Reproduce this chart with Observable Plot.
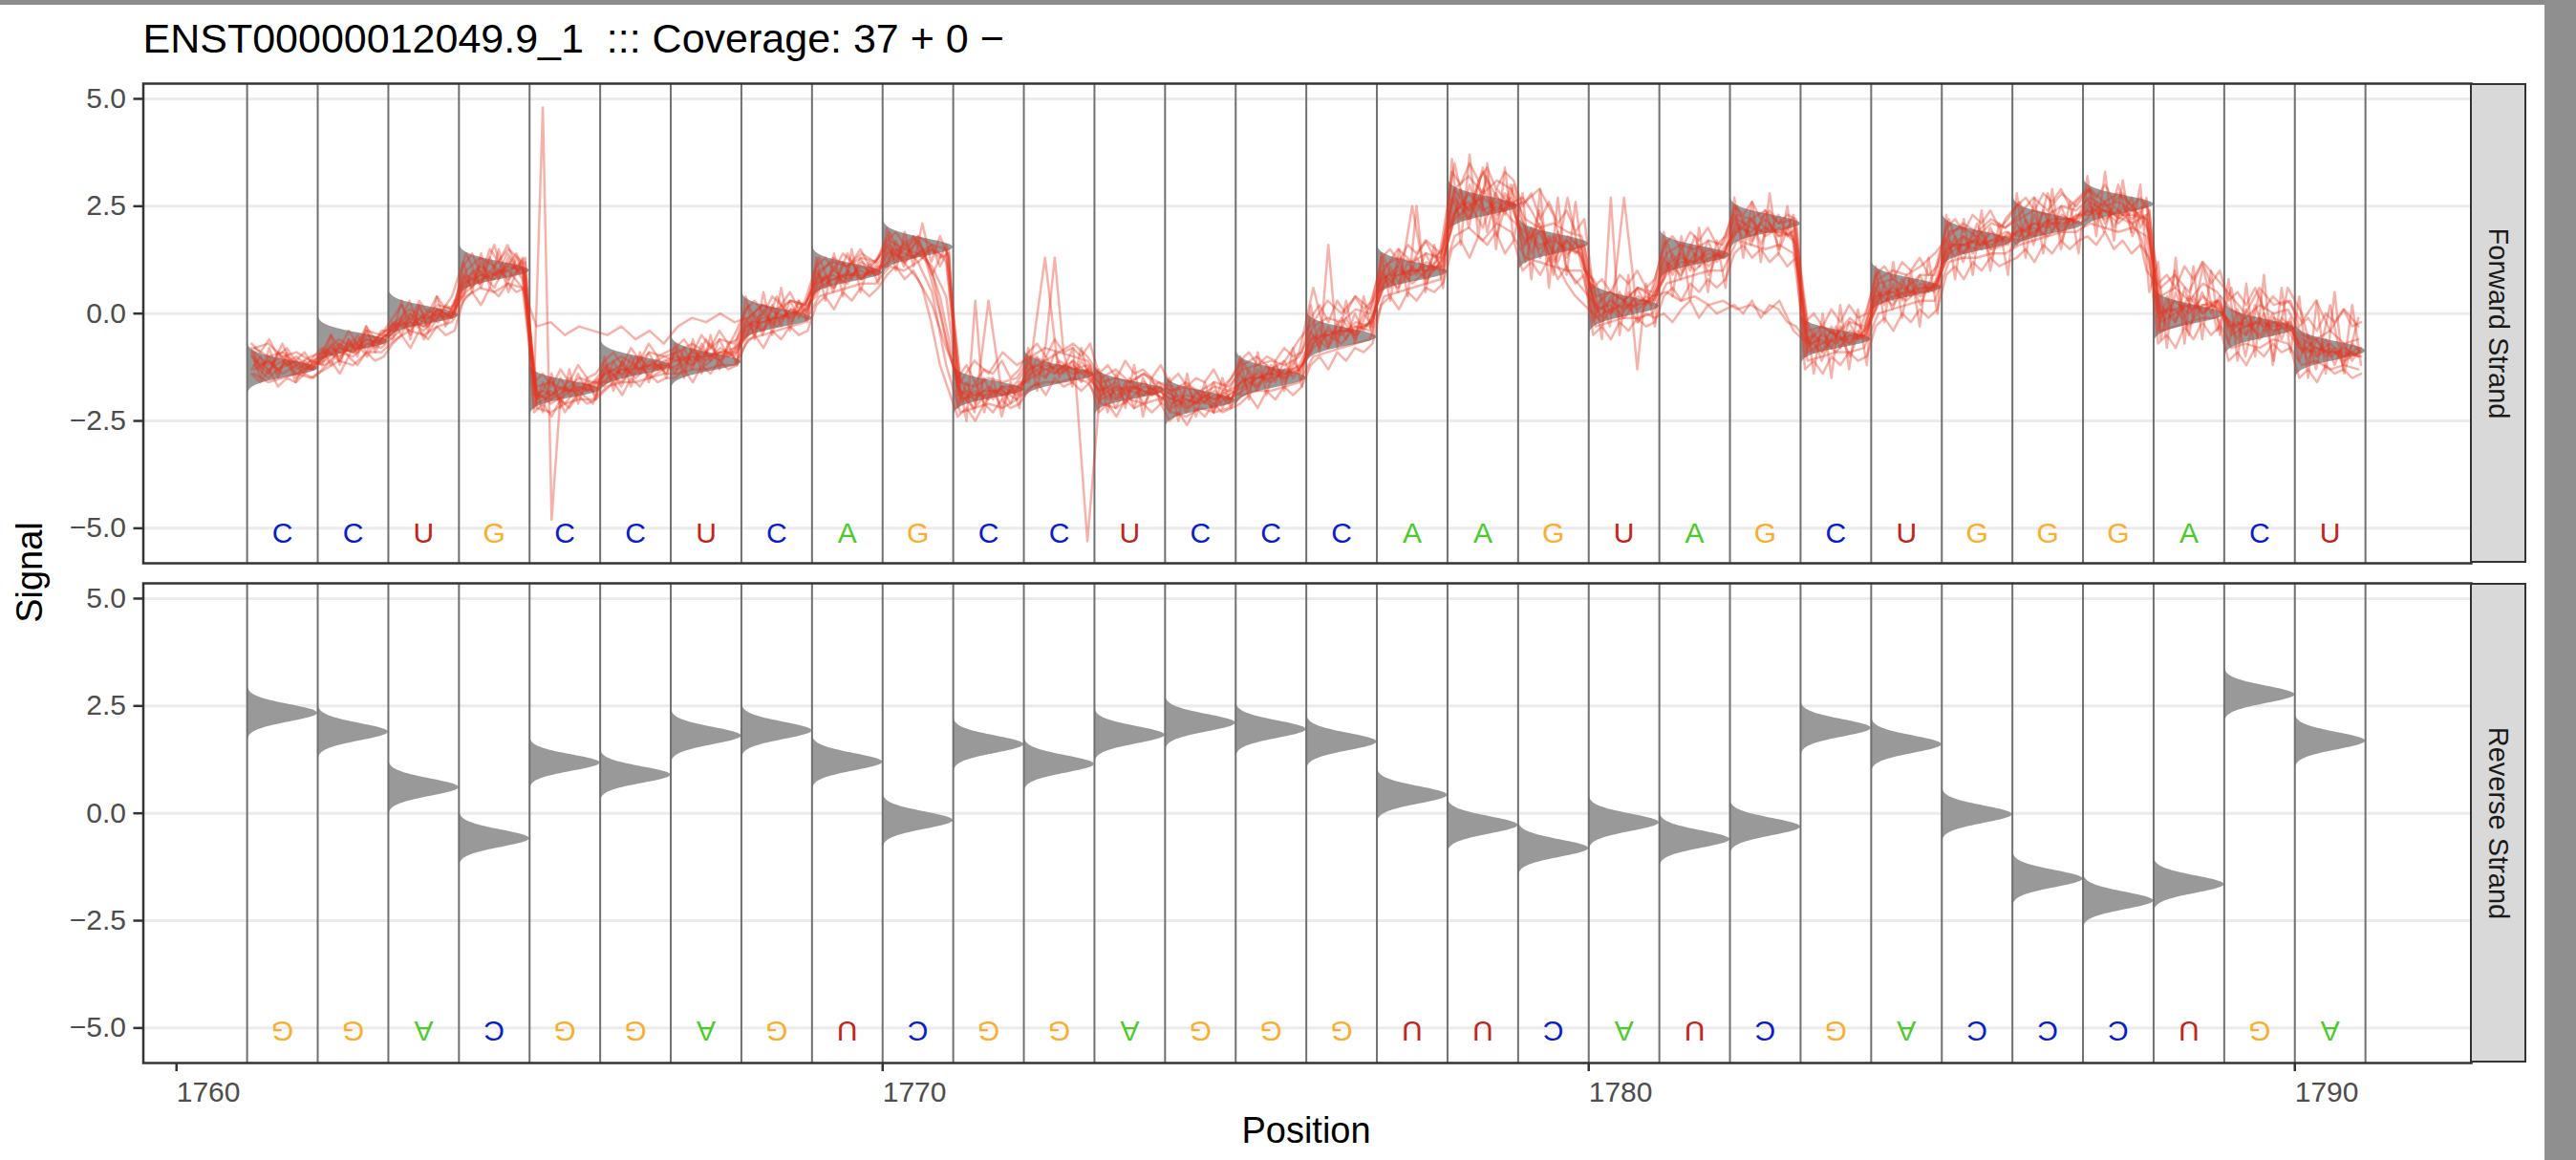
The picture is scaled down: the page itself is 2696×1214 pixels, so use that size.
<!DOCTYPE html>
<html>
<head>
<meta charset="utf-8">
<script src="https://cdn.jsdelivr.net/npm/d3@7"></script>
<script src="https://cdn.jsdelivr.net/npm/@observablehq/plot@0.6"></script>
<style>
  html, body { margin:0; padding:0; background:#fff; }
  #page { position:relative; width:2696px; height:1214px; overflow:hidden; background:#fff;
          font-family:"Liberation Sans", Arial, Helvetica, sans-serif; }
  .abs { position:absolute; }
  .strip { position:absolute; box-sizing:border-box; background:#d9d9d9; border:2px solid #333;
           display:flex; align-items:center; justify-content:center; }
  .strip span { display:block; transform:rotate(90deg); white-space:nowrap; font-size:29px; color:#1a1a1a; line-height:1; }
</style>
</head>
<body>
<div id="page">
  <div class="abs" style="left:0;top:0;width:2696px;height:5px;background:#8b8b8b"></div>
  <div class="abs" style="left:2663px;top:0;width:33px;height:1214px;background:#8f8f8f"></div>
  <div class="abs" style="left:149.5px;top:18.6px;font-size:43px;line-height:43px;white-space:pre;color:#000">ENST00000012049.9_1  ::: Coverage: 37 + 0 −</div>
  <div class="abs" id="topPanel" style="left:0;top:80px"></div>
  <div class="abs" id="bottomPanel" style="left:0;top:600px"></div>
  <div class="strip" style="left:2585px;top:87px;width:59px;height:502px"><span>Forward Strand</span></div>
  <div class="strip" style="left:2585px;top:610px;width:59px;height:502px"><span>Reverse Strand</span></div>
  <div class="abs" style="left:31px;top:599px;font-size:38px;line-height:38px;color:#000;white-space:nowrap;transform:translate(-50%,-50%) rotate(-90deg)">Signal</div>
  <div class="abs" style="left:1367px;top:1164px;font-size:38px;line-height:38px;color:#000;white-space:nowrap;transform:translateX(-50%)">Position</div>
</div>
<script>
// ---------- data ----------
const positions = [1761,1762,1763,1764,1765,1766,1767,1768,1769,1770,1771,1772,1773,1774,1775,1776,1777,1778,1779,1780,1781,1782,1783,1784,1785,1786,1787,1788,1789,1790];
const boundaries = [1761,1762,1763,1764,1765,1766,1767,1768,1769,1770,1771,1772,1773,1774,1775,1776,1777,1778,1779,1780,1781,1782,1783,1784,1785,1786,1787,1788,1789,1790,1791];
const fwdBases = ["C","C","U","G","C","C","U","C","A","G","C","C","U","C","C","C","A","A","G","U","A","G","C","U","G","G","G","A","C","U"];
const revBases = ["G","G","A","C","G","G","A","G","U","C","G","G","A","G","G","G","U","U","C","A","U","C","G","A","C","C","C","U","G","A"];
const fwdMean = [-1.28,-0.65,-0.04,1.00,-1.77,-1.22,-1.13,-0.11,0.95,1.54,-1.77,-1.42,-1.79,-2.03,-1.50,-0.55,0.97,2.50,1.62,0.17,1.36,2.09,-0.60,0.61,1.69,2.08,2.54,-0.02,-0.35,-0.87];
const fwdSd   = [0.19,0.19,0.19,0.20,0.19,0.20,0.20,0.20,0.20,0.21,0.19,0.19,0.19,0.20,0.21,0.20,0.20,0.21,0.21,0.21,0.20,0.20,0.19,0.20,0.21,0.21,0.20,0.21,0.21,0.21];
const revMean = [2.33,1.89,0.60,-0.59,1.17,0.89,1.80,1.92,1.19,-0.17,1.60,1.14,1.82,2.10,1.95,1.66,0.42,-0.28,-0.82,-0.22,-0.61,-0.32,1.98,1.60,-0.03,-1.53,-2.04,-1.66,2.76,1.68];
const revSd   = [0.20,0.20,0.20,0.20,0.19,0.19,0.20,0.20,0.20,0.20,0.20,0.20,0.20,0.20,0.20,0.20,0.20,0.20,0.20,0.20,0.20,0.20,0.20,0.20,0.20,0.20,0.20,0.20,0.20,0.20];
const yTicks = [-5, -2.5, 0, 2.5, 5];
const xTicks = [1760, 1770, 1780, 1790];

// signal samples of individual reads (5 per base, bases 1761..1790)
const readA = [
-1.0,-1.3,-1.1,-1.4,-1.2, -1.1,-0.8,-0.9,-0.6,-0.7, -0.4,-0.1,-0.3,0.1,-0.1, 0.6,0.9,0.8,1.2,0.9, -2.0,-1.8,-2.1,-1.7,-1.8, -1.5,-1.3,-1.4,-1.1,-1.3, -1.2,-0.9,-1.1,-0.8,-1.0, -0.4,-0.1,-0.2,0.1,0.0, 0.7,1.0,0.8,1.1,0.9, 1.3,1.6,1.2,1.5,1.3,
-1.8,-2.0,-1.7,-1.9,-1.8, -1.4,-1.2,-1.3,-1.1,-1.4, -1.9,-1.7,-1.8,-1.6,-1.9, -2.1,-1.9,-2.0,-2.2,-1.9, -1.7,-1.5,-1.4,-1.5,-1.3, -0.7,-0.4,-0.5,-0.2,-0.3, 0.7,1.0,0.9,1.2,1.0, 2.3,2.8,2.4,2.6,2.2, 1.9,1.5,1.8,1.4,1.6, 0.0,0.3,0.1,0.4,0.2,
1.0,1.3,1.2,1.5,1.3, 2.1,1.8,2.0,1.9,2.1, -0.8,-0.5,-0.7,-0.4,-0.6, 0.3,0.6,0.4,0.7,0.5, 1.5,1.8,1.6,1.7,1.9, 1.8,2.1,2.0,2.3,2.1, 2.5,2.2,2.4,2.1,2.3, -0.1,0.3,0.0,0.4,0.1, -0.2,-0.5,-0.1,-0.4,-0.3, -0.7,-1.0,-0.8,-1.1,-0.9];
const readB = [
-1.3,-1.1,-1.4,-1.2,-1.3, -0.9,-1.0,-0.7,-0.8,-0.5, -0.2,-0.4,0.0,-0.2,0.1, 0.9,0.7,1.1,0.8,1.1, -1.8,-2.1,-1.9,-1.6,-1.7, -1.3,-1.6,-1.2,-1.4,-1.1, -1.0,-1.2,-0.9,-1.1,-0.8, -0.2,-0.4,0.0,-0.1,0.2, 0.9,0.6,1.0,0.8,1.1, 1.5,1.2,1.4,1.1,0.4,
-2.1,-1.8,-2.0,-1.7,-1.9, -1.2,-1.5,-1.1,-1.3,-1.2, -1.7,-2.0,-1.8,-1.9,-1.7, -1.9,-2.2,-2.0,-1.8,-2.1, -1.5,-1.7,-1.3,-1.4,-1.2, -0.5,-0.8,-0.3,-0.5,-0.2, 0.9,0.6,1.1,0.8,1.2, 2.7,2.2,2.9,2.3,2.6, 1.6,2.1,1.4,1.7,1.3, 0.2,0.0,0.3,0.1,0.4,
1.2,0.9,1.4,1.1,1.5, 1.9,2.2,1.8,2.0,1.7, -0.6,-0.9,-0.5,-0.7,-0.4, 0.5,0.2,0.6,0.4,0.7, 1.7,1.4,1.8,1.5,1.6, 2.0,1.8,2.2,1.9,2.3, 2.3,2.6,2.2,2.5,2.0, 0.2,-0.2,0.4,0.0,0.3, -0.4,-0.1,-0.6,-0.2,-0.4, -0.9,-0.6,-1.0,-0.8,-1.0];
const readC = [
-1.2,-1.5,-1.2,-1.0,-1.3, -1.0,-0.7,-0.9,-0.5,-0.6, -0.3,-0.2,-0.4,0.0,0.0, 0.7,1.0,0.6,1.3,0.8, -2.1,-1.9,-1.7,-1.9,-1.6, -1.4,-1.2,-1.5,-1.2,-1.0, -1.1,-1.0,-1.2,-0.9,-0.9, -0.3,0.0,-0.3,0.1,-0.1, 0.8,0.9,0.7,1.2,1.0, 1.4,1.3,1.7,1.0,-0.6,
-1.9,-2.2,-1.8,-1.8,-2.0, -1.3,-1.1,-1.4,-1.2,-1.5, -1.8,-1.6,-2.0,-1.7,-1.8, -2.0,-2.1,-1.8,-2.0,-1.8, -1.6,-1.4,-1.6,-1.3,-1.4, -0.6,-0.5,-0.7,-0.3,-0.4, 0.8,1.1,0.7,1.0,1.3, 2.4,2.6,2.0,2.9,2.5, 1.7,1.9,1.2,1.8,1.5, 0.1,0.2,-0.1,0.3,0.3,
1.1,1.4,1.0,1.3,1.4, 2.0,1.9,2.2,1.8,1.9, -0.7,-0.6,-0.9,-0.5,-0.5, 0.4,0.5,0.3,0.6,0.6, 1.6,1.6,1.5,1.9,1.7, 1.9,2.0,1.8,2.2,2.2, 2.4,2.4,2.1,2.4,2.2, 0.0,0.1,-0.3,0.2,0.3, -0.3,-0.2,-0.5,-0.1,-0.3, -0.8,-0.9,-0.7,-1.0,-0.8];
const readD = [
-0.9,-1.2,-1.0,-1.3,-1.1, -1.2,-0.9,-1.0,-0.7,-0.8, -0.5,-0.2,-0.3,-0.1,0.0, 0.5,0.8,0.9,1.1,1.0, -1.9,-2.0,-1.8,-1.8,-1.6, -1.6,-1.3,-1.3,-1.2,-1.2, -1.3,-1.0,-1.0,-0.9,-0.8, -0.5,-0.2,-0.1,0.0,0.1, 0.6,0.8,0.9,0.9,1.0, 1.2,1.5,1.4,1.6,1.2,
-2.0,-1.9,-1.9,-1.7,-1.7, -1.5,-1.3,-1.2,-1.4,-1.3, -2.0,-1.8,-1.7,-1.8,-1.9, -2.2,-2.0,-2.1,-1.9,-2.0, -1.8,-1.5,-1.5,-1.4,-1.3, -0.8,-0.5,-0.4,-0.4,-0.2, 0.6,0.9,1.0,1.0,1.1, 2.2,2.5,2.7,2.4,2.7, 2.0,1.6,1.7,1.5,1.4, -0.1,0.1,0.2,0.2,0.3,
0.9,1.2,1.2,1.4,1.3, 2.2,2.0,1.9,1.9,1.8, -0.9,-0.7,-0.6,-0.6,-0.5, 0.2,0.4,0.5,0.5,0.6, 1.4,1.6,1.7,1.6,1.8, 1.7,1.9,2.1,2.1,2.2, 2.6,2.4,2.3,2.3,2.2, -0.2,0.0,0.2,0.1,0.2, -0.5,-0.3,-0.2,-0.3,-0.2, -0.6,-0.8,-0.9,-0.9,-1.0];
const readE = [
-0.8,-1.0,-0.9,-1.2,-1.0, -0.9,-0.6,-0.8,-0.4,-0.5, -0.2,0.1,-0.1,0.2,0.1, 1.0,1.3,1.1,1.5,1.2, -1.7,-1.6,-1.8,-1.5,-1.6, -1.2,-1.0,-1.2,-0.9,-1.0, -0.9,-0.7,-0.9,-0.6,-0.7, -0.1,0.2,0.0,0.3,0.2, 1.0,1.2,1.1,1.3,1.2, 1.7,1.5,1.8,1.6,1.5,
-1.6,-1.7,-1.5,-1.6,-1.5, -1.0,-1.1,-0.9,-1.0,-1.1, -1.6,-1.5,-1.6,-1.4,-1.6, -1.8,-1.7,-1.8,-1.6,-1.7, -1.3,-1.2,-1.1,-1.2,-1.0, -0.3,-0.1,-0.2,0.1,0.0, 1.1,1.3,1.2,1.4,1.3, 2.9,3.2,2.8,3.1,2.9, 2.2,2.0,2.1,1.9,1.8, 0.4,0.5,0.3,0.6,0.5,
1.4,1.6,1.5,1.7,1.6, 2.3,2.2,2.4,2.1,2.2, -0.4,-0.3,-0.5,-0.2,-0.3, 0.7,0.8,0.6,0.9,0.9, 1.9,2.0,1.8,2.1,2.0, 2.2,2.4,2.3,2.5,2.4, 2.7,2.5,2.6,2.4,2.5, 0.4,0.6,0.3,0.7,0.5, 0.1,-0.1,0.2,0.0,0.1, -0.5,-0.6,-0.4,-0.7,-0.6];
const readF = [
-1.4,-1.6,-1.5,-1.4,-1.5, -1.3,-1.1,-1.2,-0.9,-0.9, -0.6,-0.4,-0.5,-0.3,-0.2, 0.4,0.6,0.5,0.7,0.6, -2.2,-2.3,-2.1,-2.0,-2.0, -1.7,-1.6,-1.6,-1.5,-1.4, -1.4,-1.3,-1.3,-1.2,-1.2, -0.6,-0.5,-0.4,-0.3,-0.2, 0.4,0.5,0.6,0.7,0.7, 1.1,1.0,1.2,0.5,-1.2,
-2.3,-2.2,-2.1,-2.2,-2.0, -1.7,-1.6,-1.6,-1.5,-1.6, -2.1,-2.2,-2.0,-2.1,-2.0, -2.3,-2.4,-2.2,-2.3,-2.2, -1.9,-1.8,-1.8,-1.7,-1.6, -1.0,-0.9,-0.8,-0.7,-0.6, 0.4,0.5,0.6,0.7,0.8, 1.8,2.0,1.7,2.1,1.9, 1.3,1.2,1.1,1.0,1.0, -0.3,-0.2,-0.1,-0.1,0.0,
0.7,0.8,0.9,1.0,1.0, 1.7,1.6,1.5,1.6,1.4, -1.1,-1.0,-0.9,-0.9,-0.8, 0.0,0.1,0.2,0.3,0.3, 1.2,1.3,1.3,1.4,1.4, 1.6,1.7,1.8,1.9,1.9, 2.1,2.0,1.9,2.0,1.8, -0.4,-0.3,-0.2,-0.1,-0.1, -0.8,-0.7,-0.8,-0.6,-0.7, -1.2,-1.1,-1.3,-1.2,-1.3];
const readG = [
-0.8,-0.7,-1.0,-0.9,-1.1, -1.0,-0.8,-0.9,-0.7,-0.6, -0.3,0.0,-0.2,0.1,-0.1, 0.8,1.1,0.9,1.0,0.6, -0.3,-0.2,-0.5,-0.3,-0.4, -0.5,-0.3,-0.6,-0.4,-0.7, -0.3,-0.1,-0.2,0.0,-0.2, -0.1,0.2,0.1,0.3,0.2, 0.9,1.3,1.1,1.4,1.2, 1.6,1.2,0.8,0.2,-0.8,
-1.6,-1.1,-1.4,-0.9,-1.2, -1.0,-0.8,-0.9,-0.7,-1.0, -1.5,-1.3,-1.6,-1.4,-1.7, -1.8,-1.6,-1.9,-1.7,-1.8, -1.2,-1.0,-1.3,-1.1,-0.6, -0.2,0.3,0.0,0.4,0.1, 1.0,1.5,1.2,1.7,1.4, 2.9,2.4,3.3,2.7,2.5, 2.6,2.9,2.3,1.0,0.6, 0.2,0.5,0.3,0.6,0.4,
0.5,0.3,0.4,0.2,0.3, 0.1,0.2,0.0,0.3,-0.4, -0.7,-0.3,-0.5,-0.1,-0.4, 0.8,1.0,0.9,1.1,1.4, 1.8,2.1,1.9,2.2,2.0, 2.3,2.7,2.4,2.8,2.5, 2.9,2.6,2.8,2.5,1.0, 0.6,0.9,0.5,1.2,0.8, 0.4,0.0,0.6,0.2,0.3, -0.2,0.3,-0.4,0.1,-0.3];
const readH = [
-1.1,-1.4,-0.7,-1.5,-1.2, -0.8,-1.1,-0.6,-1.0,-0.4, -0.4,0.3,-0.6,-0.1,0.4, 1.4,0.7,1.6,0.5,1.3, -2.0,-1.5,-2.3,-1.8,-2.1, -1.2,-1.7,-1.0,-1.5,-1.3, -0.8,-1.3,-0.6,-1.1,-0.5, 0.2,-0.5,0.4,-0.2,0.3, 1.3,0.5,1.4,0.8,1.2, 1.9,1.1,1.8,0.9,1.6,
-1.5,-2.3,0.3,-2.0,-1.6, -1.1,1.3,-1.5,-0.8,-5.3, -1.4,-2.2,-1.5,-2.1,-1.6, -1.7,-2.3,-1.9,-2.1,-1.6, -1.1,-1.8,-1.2,-1.6,-0.9, 0.6,-0.7,-0.1,-0.6,0.2, 1.3,0.5,2.5,0.7,1.5, 3.5,2.0,3.4,1.8,3.0, 1.2,2.4,0.9,2.7,1.1, 0.7,-0.3,2.7,-0.2,0.6,
1.7,0.8,1.8,0.9,1.7, 2.5,1.6,2.4,1.5,2.3, -0.2,-1.1,-0.3,-1.0,-0.1, 1.0,0.1,0.9,0.2,1.0, 2.2,1.2,2.1,1.3,2.2, 2.6,1.6,2.8,1.7,2.6, 2.9,1.9,3.0,1.8,2.7, -0.6,1.0,-0.5,1.1,-0.4, 0.6,-1.0,0.5,-1.1,0.6, 0.0,-1.3,0.2,-1.4,-0.1];

// more reads, 8 samples per base, values in tenths of a signal unit
const readI = `-8 -13 -10 -15 -9 -12 -14 -11  -12 -7 -11 -6 -9 -4 -8 -5  -6 -1 -5 2 -3 1 -2 3  4 10 6 13 8 11 14 9  -22 -16 -20 -15 -19 -14 -18 -16
 -17 -11 -15 -10 -14 -9 -13 -11  -14 -8 -12 -7 -11 -6 -10 -8  -6 0 -4 2 -3 3 -1 2  4 9 6 12 8 13 9 11  11 17 12 18 13 16 11 15
 -22 -16 -21 -15 -20 -17 -21 -16  -16 -10 -15 -9 -14 -11 -16 -12  -21 -15 -20 -16 -22 -15 -19 -17  -23 -17 -22 -18 -21 -16 -22 -18  -19 -13 -17 -12 -16 -11 -15 -12
 -9 -3 -8 -2 -6 0 -4 -1  5 11 7 12 9 14 10 13  20 29 22 31 19 28 23 30  22 14 20 12 19 13 17 11  -2 4 0 5 1 6 2 5
 8 14 10 16 11 17 12 15  23 17 22 16 21 18 20 16  -10 -4 -9 -3 -8 -2 -6 -3  1 7 3 8 4 9 5 8  12 18 14 19 15 20 16 19
 16 22 18 24 19 25 20 23  27 21 26 20 25 22 24 19  -4 4 -2 6 -1 5 0 4  -7 1 -5 2 -4 0 -6 -1  -11 -5 -10 -6 -12 -7 -11 -8`;
const readJ = `-13 -10 -14 -9 -12 -11 -13 -10  -8 -12 -7 -10 -5 -9 -6 -7  -2 -5 0 -3 1 -1 2 0  9 6 12 8 10 14 11 12  -17 48 -48 -19 -15 -18 -16 -19
 -12 -16 -11 -14 -10 -13 -12 -14  -9 -13 -8 -11 -7 -10 -9 -11  -1 -5 1 -3 2 -1 3 0  10 6 11 7 12 8 10 9  16 12 17 13 15 10 4 -6
 -17 -20 -16 -21 -18 -22 -17 -19  -11 -15 -10 -14 -12 -16 -11 -14  -16 -20 -17 -21 -16 -19 -17 -20  -18 -22 -17 -21 -19 -23 -18 -20  -14 -18 -13 -16 -12 -15 -11 -14
 -4 -8 -3 -6 -1 -5 0 -3  10 6 12 8 13 9 14 10  27 22 30 24 32 21 28 25  15 20 13 18 12 17 14 16  3 -1 4 0 5 2 4 3
 13 9 15 10 16 12 14 13  18 22 17 21 19 23 18 20  -5 -9 -4 -8 -3 -7 -4 -6  6 2 7 3 8 5 7 6  17 13 18 14 19 15 18 16
 21 17 23 18 24 20 22 21  22 26 21 25 23 27 20 24  3 -3 5 -1 4 0 2 1  -2 -6 1 -4 0 -5 -1 -3  -7 -11 -6 -10 -8 -12 -7 -9`;
const readK = `-7 -9 -6 -10 -8 -11 -9 -12  -9 -5 -8 -4 -7 -3 -6 -4  -1 2 -2 3 0 4 1 2  11 14 9 15 12 16 11 13  -16 -14 -17 -13 -16 -12 -15 -14
 -11 -9 -12 -8 -11 -7 -10 -9  -8 -6 -9 -5 -8 -4 -7 -6  1 3 0 4 2 5 1 3  11 13 10 14 12 15 11 13  17 19 16 18 15 8 0 -9
 -15 -12 -16 -13 -14 -11 -15 -13  -9 -7 -10 -6 -9 -8 -10 -7  -14 -12 -15 -11 -14 -13 -15 -12  -16 -14 -17 -15 -16 -13 -17 -15  -11 -9 -12 -10 -11 -8 -10 -9
 -1 2 -2 3 0 4 1 3  13 15 12 16 14 17 13 15  33 30 35 31 34 29 33 31  25 28 22 26 21 24 19 22  6 8 5 9 7 10 6 8
 16 18 15 19 17 20 16 18  25 23 26 22 24 21 23 22  -2 0 -3 1 -2 2 -1 0  9 11 8 12 10 13 9 11  20 22 19 23 21 24 20 22
 25 27 24 28 26 29 25 27  29 27 30 26 28 25 27 24  7 9 6 11 8 12 7 10  3 5 2 6 1 4 2 3  -3 -1 -4 0 -2 1 -3 -2`;
const readL = `-14 -16 -13 -17 -15 -16 -14 -15  -13 -11 -14 -10 -12 -9 -11 -10  -7 -5 -8 -4 -6 -3 -5 -4  3 5 2 6 4 7 5 6  -23 -21 -24 -20 -22 -19 -21 -20
 -18 -16 -19 -15 -17 -14 -16 -15  -15 -13 -16 -12 -14 -11 -13 -12  -7 -5 -8 -4 -6 -3 -5 -4  2 4 1 5 3 6 4 6  9 11 8 10 6 -2 -12 -18
 -24 -22 -25 -21 -23 -20 -22 -21  -18 -16 -19 -15 -17 -16 -18 -16  -23 -21 -24 -20 -22 -21 -23 -21  -25 -23 -26 -22 -24 -21 -23 -22  -21 -19 -22 -18 -20 -17 -19 -17
 -12 -10 -13 -9 -11 -8 -9 -7  2 4 1 5 3 6 5 7  15 17 13 18 16 19 14 17  10 12 9 13 8 11 7 9  -5 -3 -6 -2 -4 -1 -3 -2
 4 6 3 7 5 8 6 8  14 16 13 15 12 14 11 13  -13 -11 -14 -10 -12 -9 -11 -10  -3 -1 -4 0 -2 1 -1 1  9 11 8 12 10 13 11 12
 13 15 12 16 14 17 15 17  18 16 19 15 17 14 16 13  -7 -5 -8 -3 -6 -2 -5 -3  -11 -9 -12 -8 -10 -7 -9 -8  -15 -13 -16 -12 -14 -13 -15 -14`;
const readM = `-9 -15 -8 -14 -10 -16 -11 -13  -11 -5 -12 -6 -10 -3 -9 -5  -5 3 -6 2 -4 4 -3 1  12 5 14 6 15 7 13 9  -15 -23 -14 -22 -13 -21 -15 -20
 -10 -18 -11 -17 -9 -16 -10 -15  -7 -15 -6 -14 -5 -13 -7 -12  4 -6 5 -5 6 -4 3 -2  13 3 14 4 15 5 12 7  20 10 19 11 21 12 18 13
 -14 -25 3 -23 -15 -24 -16 -22  -8 -18 -7 13 -9 -17 -8 -16  -13 -23 -14 -22 -12 -24 -15 -21  -15 -25 -14 -24 -16 -23 -15 -22  -10 -20 -9 -19 -11 -18 -8 -17
 2 -9 16 -8 3 -7 4 -5  14 3 15 4 25 5 16 6  36 16 37 18 35 15 34 17  28 8 29 6 27 9 26 10  8 -6 27 -5 9 -13 7 -3
 19 4 18 3 20 5 17 6  27 13 26 12 28 14 25 12  1 -14 0 -15 2 -13 1 -12  11 -2 12 -1 10 -3 13 0  23 8 22 9 24 10 21 9
 28 13 27 14 29 15 26 14  32 18 33 17 31 19 30 5  12 -8 13 -7 11 -6 10 -5  8 -11 7 -10 9 -12 6 -9  4 -15 3 -14 5 -13 2 -12`;
const readN = `-10 -12 -11 -13 -12 -11 -12 -13  -10 -8 -9 -7 -8 -6 -7 -6  -3 -2 -3 -1 -1 0 -1 0  7 8 9 9 10 10 11 10  -19 -18 -19 -17 -18 -17 -18 -17
 -14 -13 -14 -12 -13 -12 -13 -12  -11 -10 -11 -9 -10 -9 -10 -9  -3 -2 -2 -1 -1 0 0 1  7 8 8 9 9 10 9 10  14 15 14 13 14 15 13 14
 -19 -18 -19 -18 -18 -19 -18 -17  -13 -12 -13 -14 -12 -13 -14 -13  -18 -17 -19 -18 -17 -18 -19 -18  -20 -19 -20 -21 -19 -20 -19 -20  -16 -15 -15 -14 -14 -13 -13 -12
 -6 -5 -5 -4 -4 -3 -3 -2  8 9 9 10 10 11 11 11  22 26 24 27 23 25 24 26  27 24 20 16 11 7 4 2  0 -2 1 -1 2 -2 0 -1
 0 -2 1 3 -1 2 0 1  2 0 3 -1 2 1 -2 -3  -6 -5 -7 -4 -6 -5 -6 -5  4 5 5 6 5 6 6 7  15 16 16 17 16 17 17 18
 19 20 21 21 22 22 22 23  24 23 24 23 22 21 18 12  0 1 1 2 1 2 2 3  -3 -2 -3 -2 -3 -2 -3 -2  -8 -9 -8 -9 -9 -10 -9 -10`;

const tenths = s => s.trim().split(/\s+/).map(v => Number(v) / 10);
const reads = [readA, readB, readC, readD, readE, readF, readG, readH,
               tenths(readI), tenths(readJ), tenths(readK), tenths(readL), tenths(readM), tenths(readN)];

(function () {
  // ---------- derived tables ----------
  const readPts = reads.flatMap((vals, r) => {
    const n = vals.length / positions.length;
    return vals.map((v, j) => ({
      read: r,
      x: positions[Math.floor(j / n)] + ((j % n) + 0.5) / n,
      y: v
    }));
  });

  function modelShape(means, sds) {
    const rows = [];
    positions.forEach((p, i) => {
      for (let k = 0; k <= 60; k++) {
        const z = -3 + 6 * k / 60;
        rows.push({pos: p, y: means[i] + z * sds[i], x1: p, x2: p + Math.exp(-0.5 * z * z)});
      }
    });
    return rows;
  }
  const fwdShape = modelShape(fwdMean, fwdSd);
  const revShape = modelShape(revMean, revSd);
  const fwdLetters = positions.map((p, i) => ({x: p + 0.5, base: fwdBases[i]}));
  const revLetters = positions.map((p, i) => ({x: p + 0.5, base: revBases[i]}));

  // ---------- plots ----------
  const font = '"Liberation Sans", Arial, Helvetica, sans-serif';
  const xDomain = [1759.53, 1792.5];
  const yDomain = [-5.815, 5.355];
  const colorScale = {domain: ["A", "C", "G", "U"], range: ["#4CC92B", "#0B1DCB", "#F9AE2E", "#C0241C"]};

  function yAxis() {
    return Plot.axisY(yTicks, {tickSize: 10, tickPadding: 8, strokeWidth: 2.5, stroke: "#333333", fill: "#4d4d4d",
      fontSize: 30, tickFormat: d3.format(".1f"), label: null});
  }

  const topPlot = Plot.plot({
    width: 2600, height: 520,
    marginLeft: 149.5, marginRight: 14, marginTop: 7, marginBottom: 11,
    x: {domain: xDomain, axis: null},
    y: {domain: yDomain},
    color: colorScale,
    style: {background: "transparent", fontFamily: font, overflow: "visible"},
    marks: [
      Plot.gridY(yTicks, {stroke: "#ebebeb", strokeOpacity: 1, strokeWidth: 3}),
      Plot.areaX(fwdShape, {y: "y", x1: "x1", x2: "x2", z: "pos", fill: "#999999", curve: "linear"}),
      Plot.ruleX(boundaries, {stroke: "#707070", strokeWidth: 2}),
      Plot.line(readPts, {x: "x", y: "y", z: "read", stroke: "#e8341f", strokeOpacity: 0.38, strokeWidth: 2.5}),
      Plot.text(fwdLetters, {x: "x", y: () => -5, text: "base", fill: "base", fontSize: 30, dy: 5.5}),
      Plot.frame({stroke: "#333333", strokeWidth: 2.5}),
      yAxis()
    ]
  });
  document.getElementById("topPanel").append(topPlot);

  const bottomPlot = Plot.plot({
    width: 2600, height: 614,
    marginLeft: 149.5, marginRight: 14, marginTop: 10, marginBottom: 102,
    x: {domain: xDomain},
    y: {domain: yDomain},
    color: colorScale,
    style: {background: "transparent", fontFamily: font, overflow: "visible"},
    marks: [
      Plot.gridY(yTicks, {stroke: "#ebebeb", strokeOpacity: 1, strokeWidth: 3}),
      Plot.areaX(revShape, {y: "y", x1: "x1", x2: "x2", z: "pos", fill: "#999999", curve: "linear"}),
      Plot.ruleX(boundaries, {stroke: "#707070", strokeWidth: 2}),
      Plot.text(revLetters, {x: "x", y: () => -5, text: "base", fill: "base", fontSize: 30, rotate: 180, dy: 2.5}),
      Plot.frame({stroke: "#333333", strokeWidth: 2.5}),
      yAxis(),
      Plot.axisX(xTicks, {tickSize: 9, tickPadding: 10, strokeWidth: 2.5, stroke: "#333333", fill: "#4d4d4d",
        fontSize: 30, textAnchor: "start", tickFormat: d => String(d), label: null})
    ]
  });
  document.getElementById("bottomPanel").append(bottomPlot);
})();
</script>
</body>
</html>
